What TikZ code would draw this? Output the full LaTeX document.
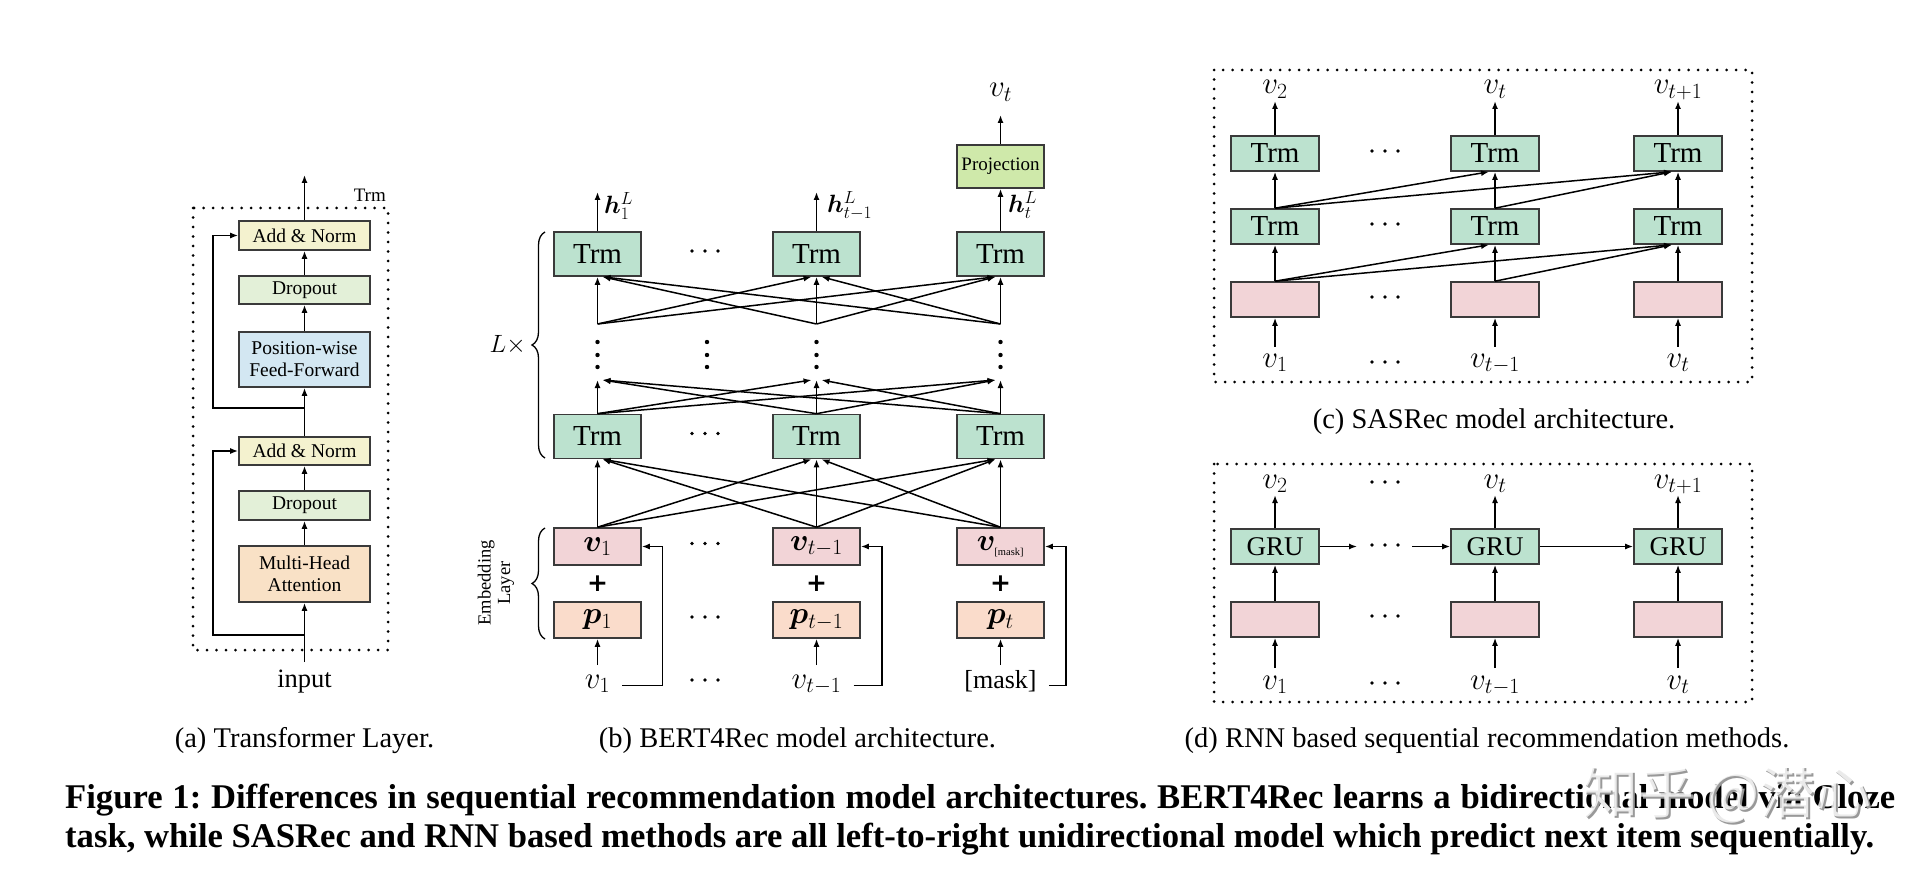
\RequirePackage{fix-cm}
\documentclass[tikz,border=0pt]{standalone}
\usepackage{amsmath,bm}
\usepackage{fontspec}
\setmainfont{Liberation Serif}
\usetikzlibrary{arrows.meta,decorations.pathreplacing,calc}
\newfontfamily\cjkfont{Noto Sans CJK SC}
\newfontfamily\plusfont{DejaVu Sans}
\newcommand\fsz[2]{\fontsize{#1pt}{#2pt}\selectfont}
\newsavebox\capmeasure
\definecolor{bordc}{HTML}{3A3A3A}
\definecolor{anc}{HTML}{F4F2CF}
\definecolor{doc}{HTML}{E3F0D8}
\definecolor{ffc}{HTML}{D3E7F2}
\definecolor{mhc}{HTML}{F9E1C6}
\definecolor{trmc}{HTML}{BCE2CF}
\definecolor{vc}{HTML}{F2D4D7}
\definecolor{pc}{HTML}{FADCCB}
\definecolor{projc}{HTML}{CFE9AA}
\frenchspacing
\begin{document}
\sbox\capmeasure{\fsz{10}{12}\bfseries task, while SASRec and RNN based methods are all left-to-right unidirectional model which predict next item sequentially.}%
\pgfmathsetmacro\capfs{1809/\wd\capmeasure*10}%
\begin{tikzpicture}[x=1pt,y=-1pt,
  box/.style={draw=bordc, line width=1.6pt, inner sep=0pt, align=center},
  abox/.style={box, minimum width=131pt, font=\fsz{19.5}{22}},
  trm/.style={box, fill=trmc, minimum width=87pt, minimum height=44pt, font=\fsz{29}{32}},
  sbox/.style={box, minimum width=88pt, minimum height=35pt, font=\fsz{29}{32}},
  ebox/.style={box, minimum width=87pt, font=\fsz{31}{34}},
  arr/.style={-{Latex[length=8pt,width=6pt]}, line width=1.5pt},
  frame/.style={line width=3pt, dash pattern=on 0pt off 9.5pt, line cap=round},
  lbl/.style={inner sep=0pt, font=\fsz{31}{34}},
  inlbl/.style={inner ysep=0pt, inner xsep=12pt, font=\fsz{31}{34}},
  hlbl/.style={inner sep=0pt, anchor=west, font=\fsz{25}{28}},
  capt/.style={inner sep=0pt, anchor=base, font=\fsz{28.5}{32}},
  dotc/.style={fill=black}
]
\useasboundingbox (0,0) rectangle (1932,874);

% ---------------- (a) Transformer layer ----------------
\draw[frame] (193,208) rectangle (388,650);
\node[font=\fsz{19}{22}, anchor=base east, inner sep=0pt] (trmlab) at (386,202) {Trm};
\node[abox, fill=anc, minimum height=29pt] (an2) at (304.5,235.5) {Add \& Norm};
\node[abox, fill=doc, minimum height=28pt] (do2) at (304.5,290) {Dropout};
\node[abox, fill=ffc, minimum height=55pt] (ffn) at (304.5,359.5) {Position-wise\\Feed-Forward};
\node[abox, fill=anc, minimum height=28pt] (an1) at (304.5,451) {Add \& Norm};
\node[abox, fill=doc, minimum height=29pt] (do1) at (304.5,505.5) {Dropout};
\node[abox, fill=mhc, minimum height=56pt] (mha) at (304.5,574) {Multi-Head\\Attention};
\node[font=\fsz{26.5}{30}, anchor=base, inner sep=0pt] (inp) at (304.5,687) {input};
\coordinate (inA) at (304.5,662);
\coordinate (outA) at (304.5,175);
\coordinate (sk1) at (304.5,408);
\coordinate (sk0) at (304.5,635);
\draw[arr] (inA) -- (mha);
\draw[arr] (mha) -- (do1);
\draw[arr] (do1) -- (an1);
\draw[arr] (an1) -- (ffn);
\draw[arr] (ffn) -- (do2);
\draw[arr] (do2) -- (an2);
\draw[arr] (an2) -- (outA);
\draw[arr] (sk1) -- ++(-91.5,0) |- (an2.west);
\draw[arr] (sk0) -- ++(-91.5,0) |- (an1.west);
\node[capt] (capa) at (304.5,747) {(a) Transformer Layer.};

% ---------------- (b) BERT4Rec ----------------
\foreach \i/\x in {1/597.5,2/816.5,3/1000.5}{
  \node[trm] (bt\i) at (\x,254) {Trm};
  \node[trm] (bb\i) at (\x,436.5) {Trm};
  \coordinate (u\i) at (\x,324);
  \coordinate (l\i) at (\x,380);
  \node[font=\plusfont\bfseries\fsz{25}{28}, inner sep=0pt] (plus\i) at (\x,583.5) {+};
  \coordinate (ia\i) at (\x,665);
}
\node[ebox, fill=vc, minimum height=37pt] (ev1) at (597.5,546.5) {$\bm{v}_1$};
\node[ebox, fill=vc, minimum height=37pt] (ev2) at (816.5,546.5) {$\bm{v}_{t-1}$};
\node[ebox, fill=vc, minimum height=37pt] (ev3) at (1000.5,546.5) {$\bm{v}_{\text{\fsz{10.5}{12}[mask]}}$};
\node[ebox, fill=pc, minimum height=36pt] (ep1) at (597.5,620) {$\bm{p}_1$};
\node[ebox, fill=pc, minimum height=36pt] (ep2) at (816.5,620) {$\bm{p}_{t-1}$};
\node[ebox, fill=pc, minimum height=36pt] (ep3) at (1000.5,620) {$\bm{p}_t$};
\node[box, fill=projc, minimum width=87pt, minimum height=43pt, font=\fsz{19}{22}] (proj) at (1000.5,166.5) {Projection};

\foreach \i in {1,2,3}{
  \foreach \j in {1,2,3}{
    \pgfmathsetmacro\sh{5*sign(\i-\j)}
    \draw[arr] (u\i) -- ([xshift=\sh pt]bt\j.south);
    \draw[arr] (bb\i.north) -- ([xshift=\sh pt]l\j);
    \draw[arr] (ev\i.north) -- ([xshift=\sh pt]bb\j.south);
  }
  \draw[arr] (ia\i) -- (ep\i);
}
% vertical dots
\foreach \x in {597.5,707,816.5,1000.5}{
  \foreach \y in {342,355,367}{
    \fill[dotc] (\x,\y) circle (2.2pt);
  }
}
% horizontal dots
\foreach \y in {251,433.5,543.5,617,680}{
  \foreach \dx in {-13,0,13}{
    \fill[dotc] (705+\dx,\y) circle (1.9pt);
  }
}
% outputs
\coordinate (o1) at (597.5,192);
\coordinate (o2) at (816.5,192);
\coordinate (o3) at (1000.5,115);
\draw[arr] (bt1) -- (o1);
\draw[arr] (bt2) -- (o2);
\draw[arr] (bt3) -- (proj);
\draw[arr] (proj) -- (o3);
\node[hlbl] (h1) at (604,206) {$\bm{h}_1^L$};
\node[hlbl] (h2) at (827,206) {$\bm{h}_{t-1}^L$};
\node[hlbl] (h3) at (1008,205) {$\bm{h}_t^L$};
\node[lbl, anchor=base] (vtop) at (1000.5,97) {$v_t$};
% inputs
\node[inlbl, anchor=base] (in1) at (597.5,688) {$v_1$};
\node[inlbl, anchor=base] (in2) at (816.5,688) {$v_{t-1}$};
\node[inlbl, anchor=base, font=\fsz{26}{30}] (in3) at (1000.5,688) {[mask]};
\coordinate (fb1) at (662.5,600);
\coordinate (fb2) at (882,600);
\coordinate (fb3) at (1066,600);
\foreach \i in {1,2,3}{
  \draw[arr] (in\i.mid east) -- (in\i.mid east -| fb\i) |- (ev\i.east);
}
% braces
\draw[line width=1.3pt, decorate, decoration={brace, amplitude=13pt}] (545,458) -- (545,232);
\node[font=\fsz{25}{28}, inner sep=0pt, anchor=east] (lx) at (526,345) {$L\times$};
\draw[line width=1.3pt, decorate, decoration={brace, amplitude=13pt}] (545,639) -- (545,528);
\node[font=\fsz{18.5}{19.5}, align=center, rotate=90, inner sep=0pt] (emb) at (496,583) {Embedding\\Layer};
\node[capt] (capb) at (797.5,747) {(b) BERT4Rec model architecture.};

% ---------------- (c) SASRec ----------------
\draw[frame] (1214,70) rectangle (1752,382);
\foreach \i/\x in {1/1275,2/1495,3/1678}{
  \node[sbox, fill=trmc] (ct\i) at (\x,153.5) {Trm};
  \node[sbox, fill=trmc] (cm\i) at (\x,226.5) {Trm};
  \node[sbox, fill=vc] (cp\i) at (\x,299.5) {};
  \coordinate (co\i) at (\x,101);
  \coordinate (ci\i) at (\x,347);
  \draw[arr] (ct\i) -- (co\i);
  \draw[arr] (cm\i) -- (ct\i);
  \draw[arr] (cp\i) -- (cm\i);
  \draw[arr] (ci\i) -- (cp\i);
}
\draw[arr] (cm1.north) -- ([xshift=-6pt]ct2.south);
\draw[arr] (cm1.north) -- ([xshift=-6pt]ct3.south);
\draw[arr] (cm2.north) -- ([xshift=-6pt]ct3.south);
\draw[arr] (cp1.north) -- ([xshift=-6pt]cm2.south);
\draw[arr] (cp1.north) -- ([xshift=-6pt]cm3.south);
\draw[arr] (cp2.north) -- ([xshift=-6pt]cm3.south);
\node[lbl, anchor=base] (cv2) at (1275,94) {$v_2$};
\node[lbl, anchor=base] (cvt) at (1495,94) {$v_t$};
\node[lbl, anchor=base] (cvt1) at (1678,94) {$v_{t+1}$};
\node[lbl, anchor=base] (cin1) at (1275,367) {$v_1$};
\node[lbl, anchor=base] (cin2) at (1495,367) {$v_{t-1}$};
\node[lbl, anchor=base] (cin3) at (1678,367) {$v_t$};
\foreach \y in {151,224,297,362}{
  \foreach \dx in {-13,0,13}{
    \fill[dotc] (1385+\dx,\y) circle (1.9pt);
  }
}
\node[capt] (capc) at (1494,428) {(c) SASRec model architecture.};

% ---------------- (d) RNN ----------------
\draw[frame] (1214,464) rectangle (1752,702);
\foreach \i/\x in {1/1275,2/1495,3/1678}{
  \node[sbox, fill=trmc, font=\fsz{27}{30}] (dg\i) at (\x,546.5) {GRU};
  \node[sbox, fill=vc] (dp\i) at (\x,619.5) {};
  \coordinate (do\i) at (\x,495);
  \coordinate (di\i) at (\x,668);
  \draw[arr] (dg\i) -- (do\i);
  \draw[arr] (dp\i) -- (dg\i);
  \draw[arr] (di\i) -- (dp\i);
}
\coordinate (r1) at (1357,546.5);
\coordinate (r2) at (1412,546.5);
\draw[arr] (dg1) -- (r1);
\draw[arr] (r2) -- (dg2);
\draw[arr] (dg2) -- (dg3);
\node[lbl, anchor=base] (dv2) at (1275,488) {$v_2$};
\node[lbl, anchor=base] (dvt) at (1495,488) {$v_t$};
\node[lbl, anchor=base] (dvt1) at (1678,488) {$v_{t+1}$};
\node[lbl, anchor=base] (din1) at (1275,689) {$v_1$};
\node[lbl, anchor=base] (din2) at (1495,689) {$v_{t-1}$};
\node[lbl, anchor=base] (din3) at (1678,689) {$v_t$};
\foreach \y in {482,545,616,683}{
  \foreach \dx in {-13,0,13}{
    \fill[dotc] (1385+\dx,\y) circle (1.9pt);
  }
}
\node[capt] (capd) at (1487,747) {(d) RNN based sequential recommendation methods.};

% ---------------- figure caption ----------------
\node[inner sep=0pt, anchor=base west, font=\fontsize{\capfs pt}{34pt}\selectfont\bfseries] (cap1) at (65,808)
  {\makebox[1830pt][s]{Figure 1: Differences in sequential recommendation model architectures. BERT4Rec learns a bidirectional model via Cloze}};
\node[inner sep=0pt, anchor=base west, font=\fontsize{\capfs pt}{34pt}\selectfont\bfseries] (cap2) at (65,847)
  {task, while SASRec and RNN based methods are all left-to-right unidirectional model which predict next item sequentially.};
% watermark
\node[inner sep=0pt, anchor=west, font=\cjkfont\fsz{56}{60}, text=black!40] (wm0) at (1584,797) {知乎 @潜心};
\node[inner sep=0pt, anchor=west, font=\cjkfont\fsz{56}{60}, text=white, opacity=0.8] (wm1) at (1582,795) {知乎 @潜心};
\end{tikzpicture}
\end{document}
